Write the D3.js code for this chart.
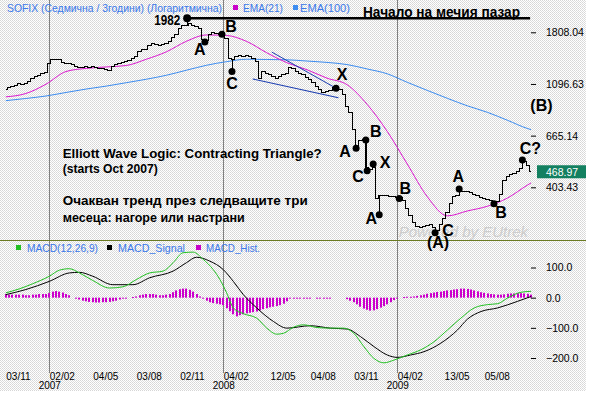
<!DOCTYPE html>
<html><head><meta charset="utf-8">
<script src="https://cdn.jsdelivr.net/npm/d3@7"></script>
<style>body{margin:0;background:#fff}svg{display:block}</style>
</head><body><svg id="c" width="590" height="400"></svg>
<script>
// ---------- DATA (weekly, SOFIX) ----------
const closes = [
1039,1056,1066,1078,1100,1089,1100,1124,1161,1180,
1188,1219,1231,1342,1386,1396,1386,1351,1342,1342,
1321,1300,1280,1280,1293,1280,1293,1280,1272,1268,
1259,1250,1293,1321,1342,1355,1364,1377,1408,1430,
1502,1538,1526,1586,1617,1601,1586,1601,1617,1655,
1712,1778,1879,1940,1940,1973,1940,1921,1879,1679,
1664,1773,1808,1790,1762,1773,1707,1408,1386,1430,
1444,1430,1440,1430,1408,1364,1161,1238,1219,1199,
1180,1161,1180,1207,1219,1280,1272,1238,1219,1199,
1168,1143,1107,1072,1039,1007,1023,1030,1056,1062,
1039,990,880,830,707,600,636,642,490,481,
490,361,372,373,372,369,368,365,364,354,
328,307,286,277,274,277,280,281,274,265,
281,297,315,344,368,372,386,389,386,382,
375,372,365,361,357,354,347,351,378,429,
446,455,459,472,486,520,500,468.97];
const emaWeeks = [0,6,12,18,24,30,36,42,48,54,60,66,72,78,84,90,96,102,108,114,120,126,132,138,144,150,156,157];
const ema21  = [968,1000,1094,1237,1275,1293,1311,1393,1497,1658,1762,1753,1655,1483,1347,1259,1160,1089,900,693,505,368,306,321,336,364,413,421];
const ema100 = [933,953,976,1010,1044,1074,1110,1148,1193,1253,1314,1361,1393,1390,1386,1369,1351,1323,1268,1210,1114,1030,954,887,833,771,712,705];
const macdWeeks = [0,4,8,13,16,19,22,26,31,35,39,43,47,50,53,56,59,62,64,66,68,71,75,78,81,83,86,89,93,97,101,104,107,110,113,116,120,124,128,132,136,140,144,147,150,154,157];
const macdVals  = [16,29,46,71,91,96,82,57,32,36,60,82,88,116,149,151,127,93,60,16,-34,-53,-68,-101,-121,-118,-98,-90,-99,-101,-101,-118,-162,-201,-216,-207,-190,-173,-146,-107,-68,-34,-23,-20,-1,18,21];
const signalWeeks = [0,6,13,19,22,26,32,38,43,50,54,57,61,65,68,71,75,80,84,91,97,102,106,110,114,117,121,125,130,135,138,142,147,153,157];
const signalVals  = [10,27,54,82,84,71,43,43,66,88,116,134,121,93,54,10,-34,-79,-101,-93,-101,-104,-129,-162,-190,-198,-190,-179,-151,-107,-71,-46,-34,-12,4];
const hist = [
12,10,10,10,10,10,8,8,10,10,12,12,12,
15,20,22,20,17,12,8,0,-2,
-6,-10,-12,-14,-15,-16,-16,-15,-15,-14,-12,-10,-6,-3,-2,
0,2,4,8,10,12,12,12,10,8,8,10,12,18,24,28,30,30,26,20,12,4,
-2,-10,-15,-18,-20,-22,-25,-35,-45,-55,-62,-58,-55,-52,-50,-48,-46,-42,-38,-35,-32,-30,-28,-25,-20,-12,
-2,-2,-2,-2,-2,-2,-2,0,-2,-2,-2,-2,-2,0,0,0,0,
-5,-10,-15,-22,-30,-36,-40,-43,-42,-38,-33,-28,-22,-15,-8,-2,0,
2,3,3,4,6,8,10,13,15,17,19,20,22,24,25,27,28,30,30,29,27,24,21,18,16,14,12,11,10,10,11,13,14,14,15,15,14,13,10];
const priceTicks = [403.43, 665.14, 1096.63, 1808.04];
const macdTicks = [100, 0, -100, -200];
const dateTickWeeks = [0,13,26,39,52,65,79,91,104,117,131,143];
const dateTickLabels = ["03/11","02/02","04/05","03/08","02/11","04/02","12/05","04/08","03/11","04/02","13/05","05/08"];
const yearWeeks = [13,65,117];
const yearLabels = ["2007","2008","2009"];
const lastValue = 468.97;
const waveText   = ["1982","A","B","C","X","A","B","C","X","A","B","(A)","A","B","C?"];
const waveWeeks  = [54.2,59.5,64.6,67.6,98.7,104.7,107.6,108,109.8,111.6,117.6,128.3,135.5,145.9,154.4];
const waveValues = [2070,1647,1773,1238,1051,589,637,473,505,309,362,260,397,344,526];
const extraText = ["C","(B)"];
const extraWeeks = [128.3,160.1];
const extraValues = [260,890];
const topLineWeeks = [54.2,156.7], topLineValue = 2070;
const triUpperWeeks = [79.5,99.4], triUpperVals = [1493,1039];
const triLowerWeeks = [73.8,99.4], triLowerVals = [1151,960];

// ---------- LAYOUT ----------
const waveOffsets = [[-20,6.5],[-5,12.8],[9,-2.2],[0,17.1],[6,-8.2],[-11,9.3],[10,-2.9],[-9,11.6],[12,4.3],[-8,8.8],[6,-4.5],[3,15.8],[-1,-6.7],[7,13.8],[8,-5.9]];
const extraOffsets = [[13,3.3],[0,5.8]];

const svg = d3.select("#c");
const FONT = "'Liberation Sans', Arial, sans-serif";
const defs = svg.append("defs");
const pat = defs.append("pattern").attr("id","bg").attr("width",2).attr("height",2).attr("patternUnits","userSpaceOnUse");
pat.append("rect").attr("width",2).attr("height",2).attr("fill","#ffffff");
pat.append("rect").attr("width",1).attr("height",1).attr("fill","#d6d6d6");
pat.append("rect").attr("x",1).attr("y",1).attr("width",1).attr("height",1).attr("fill","#dedede");
svg.append("rect").attr("width",586).attr("height",391).attr("fill","url(#bg)");

const x = d3.scaleLinear().domain([0,157]).range([5.8,531.1]);
const yP = d3.scaleLog().base(Math.E).domain([403.43,1808.04]).range([187.3,32.3]);
const yM = d3.scaleLinear().domain([-200,100]).range([358,267.5]);

// year grid lines
svg.append("g").selectAll("line").data(yearWeeks).join("line")
  .attr("x1",d=>Math.round(x(d))+0.5).attr("x2",d=>Math.round(x(d))+0.5)
  .attr("y1",0).attr("y2",373).attr("stroke","#808080").attr("stroke-width",1);

// panel divider
svg.append("line").attr("x1",0).attr("x2",586).attr("y1",240.5).attr("y2",240.5)
  .attr("stroke","#6a7a22").attr("stroke-width",1.2);

// watermark
svg.append("text").attr("x",528).attr("y",236.5).attr("text-anchor","end")
  .attr("font-family",FONT).attr("font-style","italic").attr("font-size",15)
  .attr("fill","#cdcdcd").text("Powered by EUtrek");

// EMA lines
const lineP = (ws)=>d3.line().x((d,i)=>x(ws[i])).y(d=>yP(d)).curve(d3.curveMonotoneX);
svg.append("path").datum(ema100).attr("d",lineP(emaWeeks)).attr("fill","none").attr("stroke","#3c8cf0").attr("stroke-width",1);
svg.append("path").datum(ema21).attr("d",lineP(emaWeeks)).attr("fill","none").attr("stroke","#dc18d0").attr("stroke-width",1);

// triangle lines
const tri = d3.line().x(d=>x(d[0])).y(d=>yP(d[1]));
svg.append("path").attr("d",tri(d3.zip(triUpperWeeks,triUpperVals))).attr("stroke","#1a3cb0").attr("stroke-width",1).attr("fill","none");
svg.append("path").attr("d",tri(d3.zip(triLowerWeeks,triLowerVals))).attr("stroke","#1a3cb0").attr("stroke-width",1.2).attr("fill","none");

// price step line
svg.append("path").datum(closes)
  .attr("d",d3.line().x((d,i)=>x(i)).y(d=>yP(d)).curve(d3.curveStep))
  .attr("fill","none").attr("stroke","#000").attr("stroke-width",1).attr("shape-rendering","crispEdges");

// wicks joining the marked extremes to the bar
svg.append("g").selectAll("line").data(waveWeeks).join("line")
  .attr("x1",d=>Math.round(x(d))+0.5).attr("x2",d=>Math.round(x(d))+0.5)
  .attr("y1",(d,i)=>yP(waveValues[i])).attr("y2",d=>yP(closes[Math.min(157,Math.round(d))]))
  .attr("stroke","#000").attr("stroke-width",1);

// top line
svg.append("line").attr("x1",x(topLineWeeks[0])).attr("x2",x(topLineWeeks[1]))
  .attr("y1",yP(topLineValue)).attr("y2",yP(topLineValue)).attr("stroke","#000").attr("stroke-width",2.5);
svg.append("text").attr("x",363).attr("y",16.7).attr("font-family",FONT).attr("font-weight","bold")
  .attr("font-size",14).attr("textLength",157).attr("lengthAdjust","spacingAndGlyphs").text("Начало на мечия пазар");

// wave dots & labels
svg.append("g").selectAll("circle").data(waveWeeks).join("circle")
  .attr("cx",d=>x(d)).attr("cy",(d,i)=>yP(waveValues[i])).attr("r",(d,i)=>i===0?4:3.5).attr("fill","#000");
svg.append("g").selectAll("text").data(waveText).join("text")
  .attr("x",(d,i)=>x(waveWeeks[i])+waveOffsets[i][0]).attr("y",(d,i)=>yP(waveValues[i])+waveOffsets[i][1])
  .attr("text-anchor","middle").attr("font-family",FONT).attr("font-weight","bold")
  .attr("font-size",(d,i)=>i===0?14:16)
  .each(function(d,i){ if(i===0) d3.select(this).attr("textLength",26).attr("lengthAdjust","spacingAndGlyphs"); })
  .text(d=>d);
svg.append("g").selectAll("text").data(extraText).join("text")
  .attr("x",(d,i)=>x(extraWeeks[i])+extraOffsets[i][0]).attr("y",(d,i)=>yP(extraValues[i])+extraOffsets[i][1])
  .attr("text-anchor","middle").attr("font-family",FONT).attr("font-weight","bold").attr("font-size",16).text(d=>d);

// commentary text
const notes = [["Elliott Wave Logic: Contracting Triangle?",158.3,259],["(starts Oct 2007)",172.7,95],["Очакван тренд през следващите три",205,245],["месеца: нагоре или настрани",221.7,182]];
svg.append("g").selectAll("text").data(notes).join("text")
  .attr("x",62.7).attr("y",d=>d[1]).attr("font-family",FONT).attr("font-weight","bold").attr("font-size",13.5)
  .attr("textLength",d=>d[2]).attr("lengthAdjust","spacingAndGlyphs").text(d=>d[0]);

// MACD
svg.append("g").selectAll("rect").data(hist.map((v,i)=>[i,v]).filter(d=>d[1]!==0)).join("rect")
  .attr("x",d=>Math.round(x(d[0]))-1).attr("width",2)
  .attr("y",d=>Math.min(yM(d[1]),yM(0))).attr("height",d=>Math.max(1,Math.abs(yM(d[1])-yM(0))))
  .attr("fill","#cc00cc");
const lineM = (ws)=>d3.line().x((d,i)=>x(ws[i])).y(d=>yM(d)).curve(d3.curveMonotoneX);
svg.append("path").datum(signalVals).attr("d",lineM(signalWeeks)).attr("fill","none").attr("stroke","#000").attr("stroke-width",1);
svg.append("path").datum(macdVals).attr("d",lineM(macdWeeks)).attr("fill","none").attr("stroke","#22c022").attr("stroke-width",1);

// right axes
function styleAxis(g){ g.select(".domain").remove(); g.selectAll("line").attr("stroke","#000");
  g.selectAll("text").attr("font-family",FONT).attr("font-size",10.5).attr("fill","#000"); }
svg.append("g").attr("transform","translate(531,0)")
  .call(d3.axisRight(yP).tickValues(priceTicks).tickFormat(d3.format(".2f")).tickSize(5).tickPadding(10)).call(styleAxis);
svg.append("g").attr("transform","translate(531,0)")
  .call(d3.axisRight(yM).tickValues(macdTicks).tickFormat(d3.format(".1f")).tickSize(5).tickPadding(10)).call(styleAxis);

// last value box
svg.append("rect").attr("x",537).attr("y",yP(lastValue)-6.5).attr("width",49).attr("height",13).attr("fill","#138060");
svg.append("text").attr("x",546).attr("y",yP(lastValue)+4).attr("font-family",FONT).attr("font-size",10.5)
  .attr("fill","#fff").text(d3.format(".2f")(lastValue));

// date axis
const ax = svg.append("g").attr("transform","translate(0,373)")
  .call(d3.axisBottom(x).tickValues(dateTickWeeks).tickFormat((d,i)=>dateTickLabels[i]).tickSize(0).tickPadding(0));
ax.select(".domain").remove();
ax.selectAll("text").attr("text-anchor","start").attr("font-family",FONT).attr("font-size",10).attr("fill","#000");
const ay = svg.append("g").attr("transform","translate(0,382.2)")
  .call(d3.axisBottom(x).tickValues(yearWeeks).tickFormat((d,i)=>yearLabels[i]).tickSize(0).tickPadding(0));
ay.select(".domain").remove();
ay.selectAll("text").attr("font-family",FONT).attr("font-size",10).attr("fill","#000");

// legends
const legCol = "#3a78ea";
function legend(items, y){
  const g = svg.append("g");
  items.forEach(it=>{
    if(it.sq) g.append("rect").attr("x",it.sx).attr("y",y-3).attr("width",5).attr("height",5).attr("fill",it.sq);
    g.append("text").attr("x",it.tx).attr("y",y+3.5).attr("font-family",FONT).attr("font-size",10.5)
      .attr("fill",legCol).attr("textLength",it.w).attr("lengthAdjust","spacingAndGlyphs").text(it.t);
  });
}
legend([{t:"SOFIX (Седмична / 3години) (Логаритмична)",tx:7,w:215},
        {sq:"#c800c8",sx:233,t:"EMA(21)",tx:243,w:40},
        {sq:"#3c8cf0",sx:293,t:"EMA(100)",tx:300,w:50}], 8);
legend([{sq:"#22c022",sx:16,t:"MACD(12,26,9)",tx:27,w:71},
        {sq:"#000000",sx:107,t:"MACD_Signal",tx:118,w:67},
        {sq:"#c800c8",sx:196,t:"MACD_Hist.",tx:206,w:54}], 248);
</script></body></html>
